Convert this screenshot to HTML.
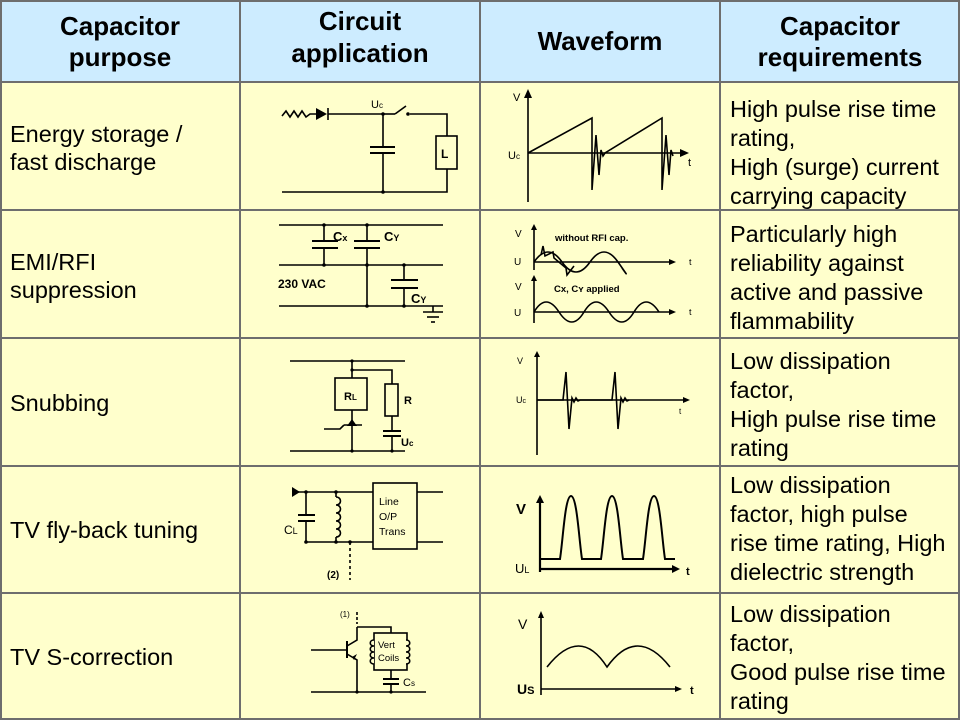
<!DOCTYPE html>
<html><head><meta charset="utf-8"><style>
html,body{margin:0;padding:0;background:#fff}
svg{display:block}
text{font-family:"Liberation Sans",Arial,sans-serif}
</style></head><body>
<svg width="960" height="720" viewBox="0 0 960 720" xmlns="http://www.w3.org/2000/svg">
<rect x="0" y="0" width="960" height="82" fill="#cdecff"/>
<rect x="0" y="82" width="960" height="638" fill="#ffffcc"/>
<g stroke="#6e6e6e" stroke-width="2" fill="none">
<rect x="1" y="1" width="958" height="718"/>
<line x1="240" y1="0" x2="240" y2="720"/><line x1="480" y1="0" x2="480" y2="720"/><line x1="720" y1="0" x2="720" y2="720"/>
<line x1="0" y1="82" x2="960" y2="82"/><line x1="0" y1="210" x2="960" y2="210"/><line x1="0" y1="338" x2="960" y2="338"/><line x1="0" y1="466" x2="960" y2="466"/><line x1="0" y1="593" x2="960" y2="593"/>
</g>
<g font-weight="bold" font-size="26" text-anchor="middle" fill="#000">
<text x="120" y="35">Capacitor</text><text x="120" y="66">purpose</text>
<text x="360" y="30">Circuit</text><text x="360" y="62">application</text>
<text x="600" y="50">Waveform</text>
<text x="840" y="35">Capacitor</text><text x="840" y="66">requirements</text>
</g>
<g font-size="23.5" fill="#000">
<text x="10" y="142">Energy storage /</text><text x="10" y="170">fast discharge</text>
<text x="10" y="270">EMI/RFI</text><text x="10" y="298">suppression</text>
<text x="10" y="411">Snubbing</text>
<text x="10" y="538">TV fly-back tuning</text>
<text x="10" y="665">TV S-correction</text>
<text x="730" y="117">High pulse rise time</text><text x="730" y="146">rating,</text><text x="730" y="175">High (surge) current</text><text x="730" y="204">carrying capacity</text>
<text x="730" y="242">Particularly high</text><text x="730" y="271">reliability against</text><text x="730" y="300">active and passive</text><text x="730" y="329">flammability</text>
<text x="730" y="369">Low dissipation</text><text x="730" y="398">factor,</text><text x="730" y="427">High pulse rise time</text><text x="730" y="456">rating</text>
<text x="730" y="493">Low dissipation</text><text x="730" y="522">factor, high pulse</text><text x="730" y="551">rise time rating, High</text><text x="730" y="580">dielectric strength</text>
<text x="730" y="622">Low dissipation</text><text x="730" y="651">factor,</text><text x="730" y="680">Good pulse rise time</text><text x="730" y="709">rating</text>
</g>

<g stroke="#000" stroke-width="1.6" fill="none">
<!-- Row1 circuit -->
<polyline points="282,116 286,111 290,117 294,111 298,117 302,111 306,117 310,114 316,114"/>
<line x1="328" y1="108" x2="328" y2="120"/>
<line x1="328" y1="114" x2="383" y2="114"/>
<line x1="383" y1="114" x2="395" y2="114"/><line x1="395" y1="114" x2="406" y2="106"/>
<polyline points="410,114 447,114 447,136"/>
<rect x="436" y="136" width="21" height="33"/>
<polyline points="447,169 447,192 282,192"/>
<line x1="383" y1="114" x2="383" y2="147"/><line x1="383" y1="153" x2="383" y2="192"/>
<line x1="370" y1="147" x2="395" y2="147" stroke-width="2"/><line x1="370" y1="153" x2="395" y2="153" stroke-width="2"/>
<!-- Row1 waveform -->
<line x1="528" y1="202" x2="528" y2="94"/>
<line x1="528" y1="153" x2="684" y2="153"/>
<polyline points="528,153 592,118 592,190 596,135 599,175 601,150 603,156 605,153 662,118 662,190 666,135 669,175 671,150 673,156"/>
<!-- Row2 circuit -->
<line x1="279" y1="225" x2="443" y2="225"/><line x1="279" y1="265" x2="443" y2="265"/><line x1="279" y1="306" x2="443" y2="306"/>
<line x1="324" y1="225" x2="324" y2="241"/><line x1="324" y1="248" x2="324" y2="265"/>
<line x1="312" y1="241" x2="338" y2="241" stroke-width="2"/><line x1="312" y1="248" x2="338" y2="248" stroke-width="2"/>
<line x1="367" y1="225" x2="367" y2="241"/><line x1="367" y1="248" x2="367" y2="306"/>
<line x1="354" y1="241" x2="380" y2="241" stroke-width="2"/><line x1="354" y1="248" x2="380" y2="248" stroke-width="2"/>
<line x1="404" y1="265" x2="404" y2="280"/><line x1="404" y1="288" x2="404" y2="306"/>
<line x1="391" y1="280" x2="418" y2="280" stroke-width="2"/><line x1="391" y1="288" x2="418" y2="288" stroke-width="2"/>
<line x1="433" y1="306" x2="433" y2="312"/>
<line x1="423" y1="312" x2="443" y2="312"/><line x1="427" y1="317" x2="439" y2="317"/><line x1="431" y1="322" x2="435" y2="322"/>
<!-- Row2 waveform -->
<line x1="534" y1="270" x2="534" y2="227"/><line x1="534" y1="262" x2="672" y2="262"/>
<path d="M534,262 Q548,242 562,262 T590,262 T618,262 T622,268" />
<polyline points="541,255 543,246 545,256 553,252 554,258 566,268 567,275 574,266"/>
<line x1="534" y1="323" x2="534" y2="278"/><line x1="534" y1="312" x2="672" y2="312"/>
<path d="M534,312 Q546,292 559,312 T584,312 T609,312 T634,312 T659,312"/>
<!-- Row3 circuit -->
<line x1="290" y1="361" x2="405" y2="361"/>
<line x1="352" y1="361" x2="352" y2="378"/>
<polyline points="352,370 392,370 392,384"/>
<rect x="335" y="378" width="32" height="32"/>
<rect x="385" y="384" width="13" height="32"/>
<line x1="392" y1="416" x2="392" y2="431"/><line x1="392" y1="436" x2="392" y2="451"/>
<line x1="383" y1="431" x2="401" y2="431" stroke-width="2"/><line x1="383" y1="436" x2="401" y2="436" stroke-width="2"/>
<line x1="352" y1="410" x2="352" y2="451"/>
<line x1="344" y1="425" x2="362" y2="425"/><polyline points="324,429 340,429 344,425"/>
<line x1="290" y1="451" x2="405" y2="451"/>
<!-- Row3 waveform -->
<line x1="537" y1="455" x2="537" y2="354"/><line x1="537" y1="400" x2="686" y2="400"/>
<polyline points="537,400 563,400 566,372 569,429 572,398 574,402 576,398 578,401 580,400 612,400 615,372 618,429 621,398 623,402 625,398 627,401 629,400"/>
<!-- Row4 circuit -->
<line x1="292" y1="492" x2="373" y2="492"/><line x1="305" y1="542" x2="373" y2="542"/>
<rect x="373" y="483" width="44" height="66"/>
<line x1="417" y1="492" x2="443" y2="492"/><line x1="417" y1="542" x2="443" y2="542"/>
<line x1="306" y1="492" x2="306" y2="515"/><line x1="306" y1="521" x2="306" y2="542"/>
<line x1="298" y1="515" x2="315" y2="515" stroke-width="2"/><line x1="298" y1="521" x2="315" y2="521" stroke-width="2"/>
<line x1="336" y1="492" x2="336" y2="497"/><line x1="336" y1="537" x2="336" y2="542"/>
<path d="M336,497 c6,0 6,8 0,8 c6,0 6,8 0,8 c6,0 6,8 0,8 c6,0 6,8 0,8 c6,0 6,8 0,8"/>
<line x1="350" y1="542" x2="350" y2="580" stroke-dasharray="3,3"/>
<!-- Row4 waveform -->
<line x1="540" y1="572" x2="540" y2="502" stroke-width="2.2"/><line x1="540" y1="569" x2="674" y2="569" stroke-width="2.2"/>
<path d="M540,559 L560,559 C563,540 565,496 571,496 C577,496 579,540 582,559 L601,559 C604,540 606,496 612,496 C618,496 620,540 623,559 L643,559 C646,540 648,496 654,496 C660,496 662,540 665,559 L675,559" stroke-width="2"/>
<!-- Row5 circuit -->
<line x1="357" y1="612" x2="357" y2="624" stroke-dasharray="3,2"/>
<polyline points="357,627 391,627 391,633"/>
<rect x="374" y="633" width="33" height="37"/>
<path d="M374,640 c-5,0 -5,6 0,6 c-5,0 -5,6 0,6 c-5,0 -5,6 0,6 c-5,0 -5,6 0,6" fill="#ffffcc"/>
<path d="M406,640 c5,0 5,6 0,6 c5,0 5,6 0,6 c5,0 5,6 0,6 c5,0 5,6 0,6" fill="#ffffcc"/>
<line x1="347" y1="641" x2="347" y2="658" stroke-width="2"/>
<line x1="311" y1="650" x2="347" y2="650"/>
<polyline points="347,646 357,640 357,627"/><polyline points="347,654 357,660 357,692"/>
<line x1="391" y1="670" x2="391" y2="679"/><line x1="391" y1="684" x2="391" y2="692"/>
<line x1="383" y1="679" x2="399" y2="679" stroke-width="2"/><line x1="383" y1="684" x2="399" y2="684" stroke-width="2"/>
<line x1="311" y1="692" x2="426" y2="692"/>
<!-- Row5 waveform -->
<line x1="541" y1="695" x2="541" y2="616"/><line x1="541" y1="689" x2="677" y2="689"/>
<path d="M547,667 Q580,625 607,667 Q637,625 670,667" stroke-width="1.6"/>
</g>
<g fill="#000">
<polygon points="316,108 316,120 327,114"/>
<circle cx="383" cy="114" r="1.8"/><circle cx="383" cy="192" r="1.8"/><circle cx="408" cy="114" r="1.8"/>
<polygon points="528,89 524,98 532,98"/><polygon points="689,153 680,149 680,157"/>
<circle cx="324" cy="225" r="1.8"/><circle cx="367" cy="225" r="1.8"/><circle cx="324" cy="265" r="1.8"/><circle cx="367" cy="265" r="1.8"/><circle cx="404" cy="265" r="1.8"/><circle cx="367" cy="306" r="1.8"/><circle cx="404" cy="306" r="1.8"/>
<polygon points="534,224 531,230 537,230"/><polygon points="676,262 669,259 669,265"/>
<polygon points="534,275 531,281 537,281"/><polygon points="676,312 669,309 669,315"/>
<circle cx="352" cy="361" r="1.6"/><circle cx="352" cy="370" r="1.6"/><circle cx="392" cy="451" r="1.6"/><circle cx="352" cy="451" r="1.6"/>
<polygon points="352,419 347,426 357,426"/>
<polygon points="537,351 534,357 540,357"/><polygon points="690,400 683,397 683,403"/>
<polygon points="300,492 292,487 292,497"/>
<circle cx="306" cy="492" r="1.8"/><circle cx="336" cy="492" r="1.8"/><circle cx="306" cy="542" r="1.8"/><circle cx="336" cy="542" r="1.8"/><circle cx="350" cy="542" r="1.8"/>
<polygon points="540,495 536,503 544,503"/><polygon points="680,569 672,565 672,573"/>
<polygon points="357,654 352,657 354,660"/>
<circle cx="391" cy="692" r="1.6"/><circle cx="357" cy="692" r="1.6"/>
<polygon points="541,611 538,618 544,618"/><polygon points="682,689 675,686 675,692"/>
</g>
<g fill="#000" font-size="11">
<text x="371" y="108">U<tspan font-size="8">c</tspan></text>
<text x="441" y="158" font-weight="bold" font-size="12">L</text>
<text x="513" y="101">V</text><text x="508" y="159">U<tspan font-size="8">c</tspan></text><text x="688" y="166">t</text>
<text x="333" y="241" font-weight="bold" font-size="13">C<tspan font-size="9">x</tspan></text>
<text x="384" y="241" font-weight="bold" font-size="13">C<tspan font-size="9">Y</tspan></text>
<text x="278" y="288" font-weight="bold" font-size="12">230 VAC</text>
<text x="411" y="303" font-weight="bold" font-size="13">C<tspan font-size="9">Y</tspan></text>
<text x="515" y="237" font-size="10">V</text><text x="555" y="241" font-size="9.5" font-weight="bold">without RFI cap.</text><text x="514" y="265" font-size="10">U</text><text x="689" y="265" font-size="9">t</text>
<text x="515" y="290" font-size="10">V</text><text x="554" y="292" font-size="9.5" font-weight="bold">Cx, Cʏ applied</text><text x="514" y="316" font-size="10">U</text><text x="689" y="315" font-size="9">t</text>
<text x="344" y="400" font-weight="bold" font-size="11">R<tspan font-size="8">L</tspan></text>
<text x="404" y="404" font-weight="bold" font-size="11">R</text>
<text x="401" y="446" font-weight="bold" font-size="11">U<tspan font-size="8">c</tspan></text>
<text x="517" y="364" font-size="9">V</text><text x="516" y="403" font-size="9">U<tspan font-size="7">c</tspan></text><text x="679" y="414" font-size="8">t</text>
<text x="379" y="505" font-size="10.5">Line</text><text x="379" y="520" font-size="10.5">O/P</text><text x="379" y="535" font-size="10.5">Trans</text>
<text x="284" y="534" font-size="12">C<tspan font-size="9">L</tspan></text>
<text x="327" y="578" font-size="10" font-weight="bold">(2)</text>
<text x="516" y="514" font-size="15" font-weight="bold">V</text><text x="515" y="573" font-size="13">U<tspan font-size="9">L</tspan></text><text x="686" y="575" font-size="11" font-weight="bold">t</text>
<text x="340" y="617" font-size="8">(1)</text>
<text x="378" y="648" font-size="9.5">Vert</text><text x="378" y="661" font-size="9.5">Coils</text>
<text x="403" y="686" font-size="11">C<tspan font-size="8">s</tspan></text>
<text x="518" y="629" font-size="14">V</text><text x="517" y="694" font-size="14" font-weight="bold">U<tspan font-size="11">S</tspan></text><text x="690" y="694" font-size="11" font-weight="bold">t</text>
</g>
</svg>
</body></html>
